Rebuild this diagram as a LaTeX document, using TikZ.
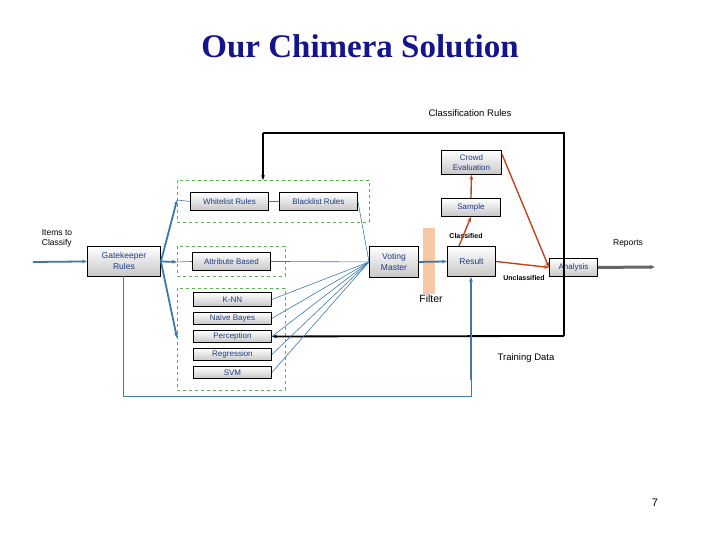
\documentclass[tikz,border=0pt]{standalone}
\usepackage{fontspec}
\setmainfont{Liberation Serif}
\newfontfamily\sans{Liberation Sans}
\usetikzlibrary{arrows.meta}
\definecolor{navy}{RGB}{20,20,140}
\definecolor{bl}{RGB}{60,120,170}
\definecolor{tx}{RGB}{30,60,130}
\definecolor{rd}{RGB}{190,70,30}
\definecolor{gr}{RGB}{90,180,80}
\definecolor{peach}{RGB}{248,200,165}
\begin{document}
\begin{tikzpicture}[x=1pt,y=-1pt,
 box/.style={draw=black,line width=0.9pt,top color=white,bottom color=black!22,font=\sans\fontsize{8}{10}\selectfont,text=tx,inner sep=0pt,align=center,anchor=north west},
 grp/.style={draw=gr,dashed,line width=0.7pt},
 lbl/.style={font=\sans\fontsize{8.5}{10}\selectfont,align=left},
 blk/.style={font=\sans\fontsize{7}{8}\selectfont\bfseries},
 bt/.style={bl,line width=1.8pt,-{Stealth[length=5pt]}},
 bn/.style={bl,line width=0.6pt},
 ar/.style={rd,line width=1.4pt,-{Stealth[length=5pt]}},
 kk/.style={black,line width=1.8pt,-{Stealth[length=5pt]}}]
\useasboundingbox (0,0) rectangle (720,540);
\node[font=\bfseries\fontsize{33}{38}\selectfont,text=navy] (title) at (360,46) {Our Chimera Solution};
\node[font=\sans\fontsize{9.5}{11}\selectfont] (cr) at (470,113) {Classification Rules};
% dashed groups
\draw[grp] (177,180) rectangle (369,222);
\draw[grp] (177,246) rectangle (285,276);
\draw[grp] (177,288) rectangle (285,390);
\coordinate (d1) at (177,200);
\coordinate (d2) at (177,262);
\coordinate (d3) at (177,338);
\coordinate (d1t) at (263,180);
% filter
\fill[peach] (423,228) rectangle (435,294);
\node[font=\sans\fontsize{10.5}{12}\selectfont] (filter) at (431,299) {Filter};
% boxes
\node[box,minimum width=73pt,minimum height=30pt,font=\sans\fontsize{8.5}{11}\selectfont] (gk) at (87,246) {Gatekeeper\\Rules};
\node[box,minimum width=78pt,minimum height=18pt] (wl) at (190,192) {Whitelist Rules};
\node[box,minimum width=78pt,minimum height=18pt] (bk) at (279,192) {Blacklist Rules};
\node[box,minimum width=78pt,minimum height=18pt] (ab) at (192,252) {Attribute Based};
\node[box,minimum width=78pt,minimum height=14pt] (knn) at (193,292) {K-NN};
\node[box,minimum width=78pt,minimum height=12pt] (nb) at (193,312) {Naïve Bayes};
\node[box,minimum width=78pt,minimum height=12pt] (pc) at (193,330) {Perception};
\node[box,minimum width=78pt,minimum height=12pt] (rg) at (193,348) {Regression};
\node[box,minimum width=78pt,minimum height=12pt] (svm) at (193,366) {SVM};
\node[box,minimum width=49pt,minimum height=31pt,font=\sans\fontsize{8.5}{11}\selectfont] (vm) at (369,246) {Voting\\Master};
\node[box,minimum width=48pt,minimum height=30pt,font=\sans\fontsize{8.5}{11}\selectfont] (res) at (447,246) {Result};
\node[box,minimum width=59pt,minimum height=18pt] (smp) at (441,198) {Sample};
\node[box,minimum width=60pt,minimum height=24pt] (ce) at (441,150) {Crowd\\Evaluation};
\node[box,minimum width=48pt,minimum height=18pt] (an) at (549,258) {Analysis};
% texts
\node[lbl] (items) at (57,238) {Items to\\Classify};
\node[blk] (cl) at (466,236) {Classified};
\node[blk] (uc) at (524,278) {Unclassified};
\node[lbl] (rep) at (628,243) {Reports};
\node[font=\sans\fontsize{9.5}{11}\selectfont] (td) at (526,358) {Training Data};
\node[font=\sans\fontsize{11}{12}\selectfont] (pg) at (655,503) {7};
% big black loop
\coordinate (k1) at (263,133);
\coordinate (k2) at (564,133);
\coordinate (k3) at (564,336);
\draw[kk] (k1) -- (d1t);
\draw[black,line width=1.8pt] (k1) -- (k2) -- (k3);
\draw[kk] (k3) -- (pc.east);
% input
\coordinate (in) at (33,262);
\draw[bt] (in) -- (gk.west);
\draw[bt] (gk.east) -- (d1);
\draw[bt] (gk.east) -- (d2);
\draw[bt] (gk.east) -- (d3);
\draw[bn] (d1) -- (wl.west);
\draw[bn] (d2) -- (ab.west);
\draw[bn] (wl.east) -- (bk.west);
\draw[bn] (bk.east) -- (vm.west);
\draw[bn] (ab.east) -- (vm.west);
\foreach \n in {knn,nb,pc,rg,svm} \draw[bn] (\n.east) -- (vm.west);
\draw[bt] (vm.east) -- (res.west);
% gatekeeper to result
\coordinate (g1) at (123,396);
\coordinate (g2) at (471,396);
\draw[bl,line width=1pt] (123,276) -- (g1) -- (g2) -- (471,380);
\draw[bt] (471,380) -- (471,277);
% orange
\draw[ar] (res.north west) ++(12,0) coordinate (r1) -- (smp.south);
\draw[ar] (smp.north) -- (ce.south);
\draw[ar] (ce.north east) ++(0,4) -- (an.west);
\draw[ar] (res.east) -- (an.west);
% reports
\coordinate (rp) at (655,267);
\draw[black!60,line width=3pt,-{Stealth[length=5pt]}] (an.east) -- (rp);
\end{tikzpicture}
\end{document}
